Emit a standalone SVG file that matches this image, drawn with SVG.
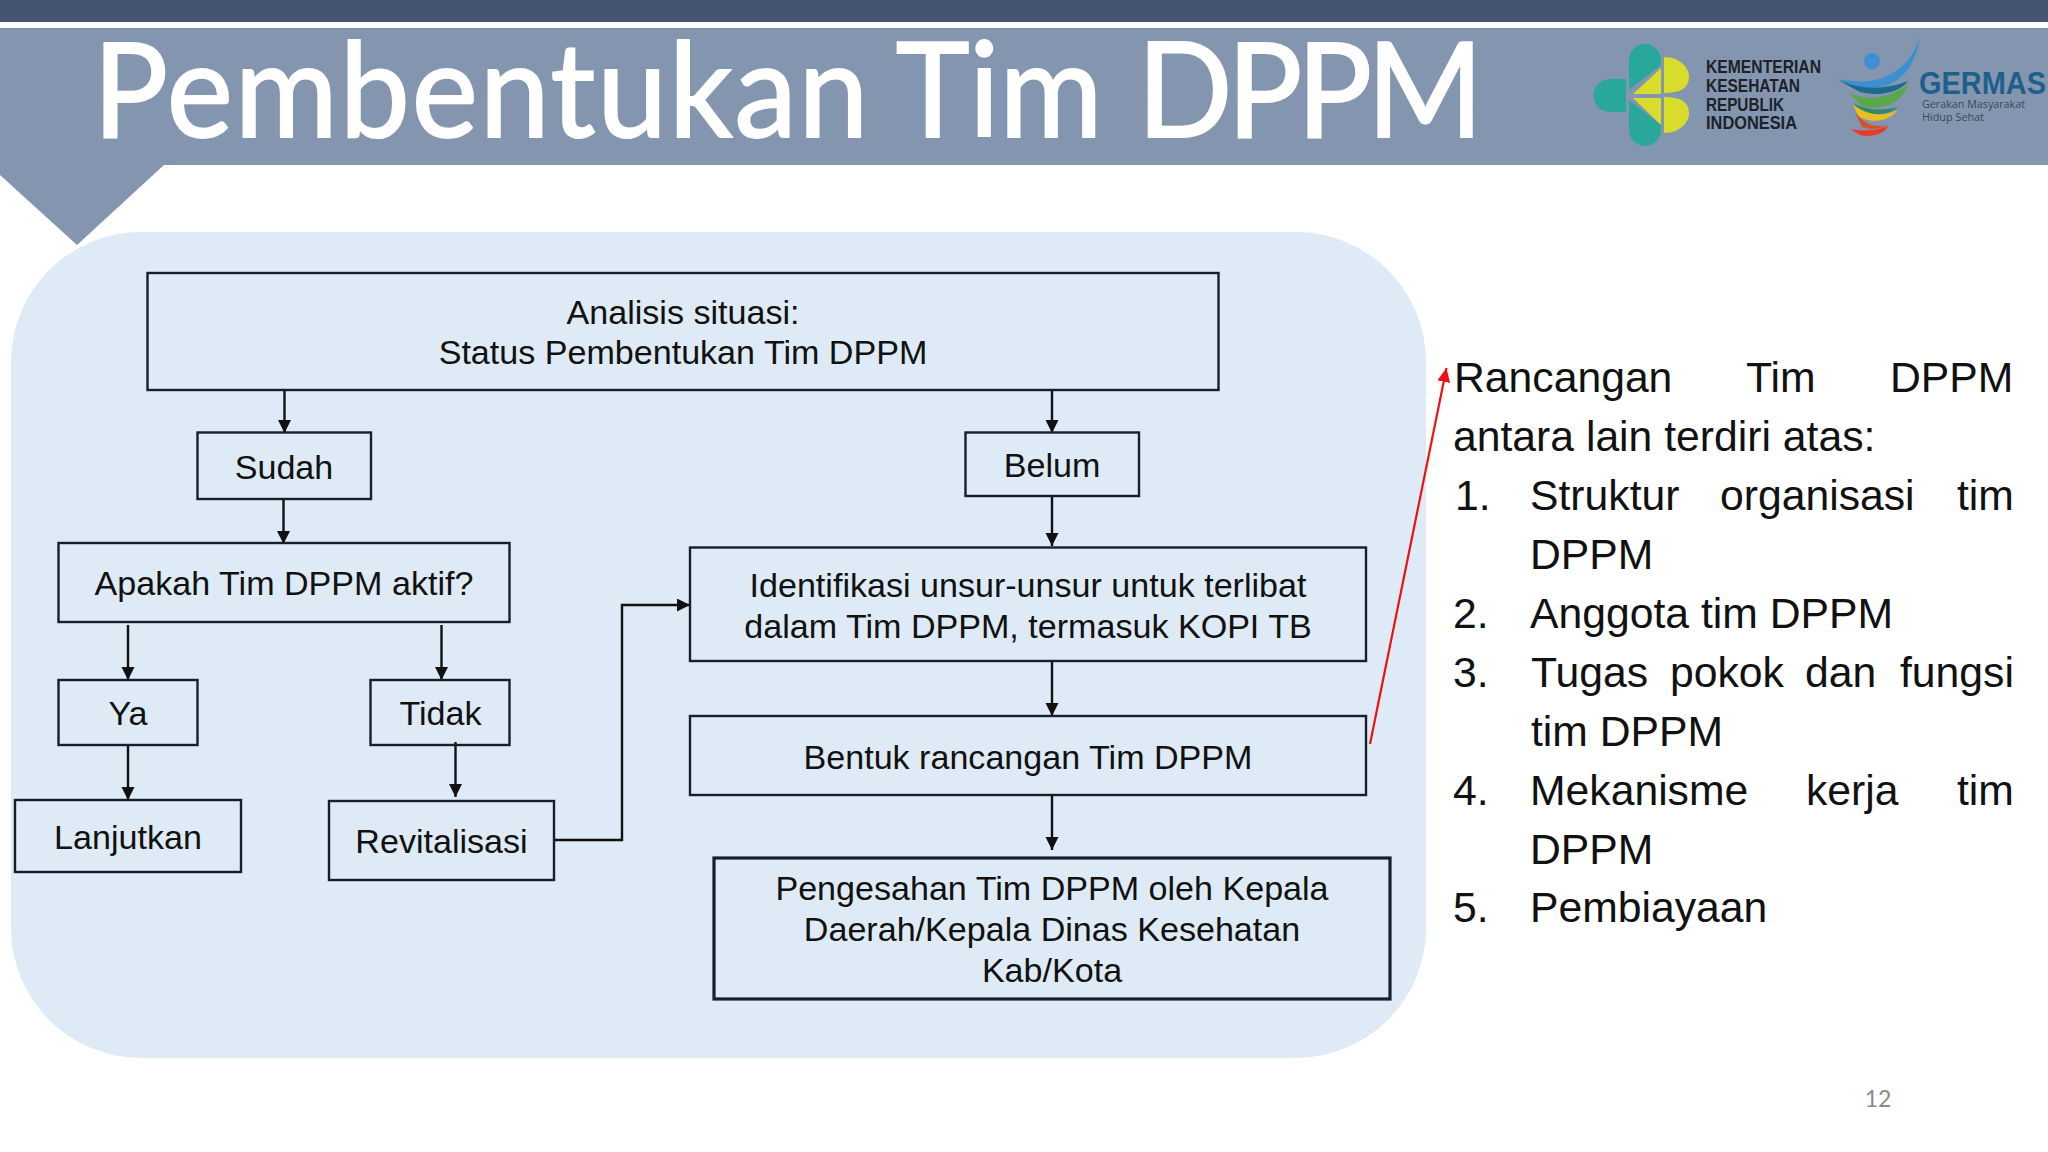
<svg xmlns="http://www.w3.org/2000/svg" width="2048" height="1152" viewBox="0 0 2048 1152">
<style>
.box{fill:none;stroke:#14202a;stroke-width:2.4}
.t{font-family:"Liberation Sans",Arial,sans-serif;font-size:34.1px;fill:#111;text-anchor:middle}
.c{fill:none;stroke:#111;stroke-width:2.4;marker-end:url(#ah)}
.r{font-family:"Liberation Sans",Arial,sans-serif;font-size:42.7px;fill:#111}
.lg{font-family:"Liberation Sans",sans-serif;font-weight:700;font-size:18px;fill:#1c2228}
</style>
<defs>
<marker id="ah" markerUnits="userSpaceOnUse" markerWidth="14" markerHeight="14" refX="13" refY="6.500" orient="auto"><path d="M0 0L13 6.500L0 13Z" fill="#111"/></marker>
<marker id="ahr" markerUnits="userSpaceOnUse" markerWidth="16" markerHeight="14" refX="14" refY="6.500" orient="auto"><path d="M0 0L14 6.500L0 13Z" fill="#f01010"/></marker>
</defs>
<rect width="2048" height="1152" fill="#fff"/>
<g id="header">
<rect width="2048" height="22" fill="#45556f"/>
<path d="M0 28H2048V165H164L77 245L0 175Z" fill="#8496af"/>
<text x="93" y="137" font-family="Lato,sans-serif" font-size="131" fill="#fff" stroke="#fff" stroke-width="2" textLength="1385" lengthAdjust="spacingAndGlyphs"><tspan letter-spacing="2">Pembentukan</tspan> <tspan dx="-3">Tim</tspan> <tspan dx="3" letter-spacing="-5.500">DPPM</tspan></text>
</g>
<g id="logo-kemenkes">
<path d="M1629 90V60A16 16 0 0 1 1661 60V65Z M1629 100L1661 125V130A16 16 0 0 1 1629 130Z M1626 79H1610A16.500 16.500 0 0 0 1610 112H1626Z" fill="#2aa79b"/>
<path d="M1664 57C1680 57 1689 68 1689 76C1689 84 1686 93 1664 93Z M1664 133C1680 133 1689 122 1689 114C1689 106 1686 97 1664 97Z M1633 94L1661 68V94Z M1633 98H1661V125Z" fill="#d8dc2a"/>
<text class="lg" x="1706" y="73" textLength="115" lengthAdjust="spacingAndGlyphs">KEMENTERIAN</text>
<text class="lg" x="1706" y="92" textLength="94" lengthAdjust="spacingAndGlyphs">KESEHATAN</text>
<text class="lg" x="1706" y="111" textLength="78" lengthAdjust="spacingAndGlyphs">REPUBLIK</text>
<text class="lg" x="1706" y="129" textLength="91" lengthAdjust="spacingAndGlyphs">INDONESIA</text>
</g>
<g id="logo-germas">
<circle cx="1872" cy="61" r="8" fill="#3d8fd0"/>
<path d="M1920 37C1912 62 1895 75 1875 80C1862 83 1850 81 1838 79C1850 88 1868 90 1885 86C1905 80 1917 60 1920 37Z" fill="#3d8fd0"/>
<path d="M1838 80C1860 90 1885 90 1908 81C1900 92 1880 97 1860 92Z" fill="#1d6a8c"/>
<path d="M1849 93C1870 102 1890 98 1908 84C1905 102 1880 112 1862 106Z" fill="#5aa84a"/>
<path d="M1853 103C1870 112 1885 110 1898 107C1888 116 1870 116 1858 110Z" fill="#2f8a6a"/>
<path d="M1853 104C1868 118 1890 116 1898 109C1890 122 1870 124 1858 116Z" fill="#e8c020"/>
<path d="M1855 112C1865 125 1875 128 1888 125C1880 130 1870 130 1862 127Z" fill="#d0552a"/>
<path d="M1850 129C1865 132 1880 130 1888 126C1885 134 1870 138 1860 135Z" fill="#e63c28"/>
<text x="1919" y="94" font-family="'Liberation Sans',sans-serif" font-weight="700" font-size="32" fill="#1f5f8b" textLength="127" lengthAdjust="spacingAndGlyphs">GERMAS</text>
<text x="1922" y="107.500" font-family="'Open Sans',sans-serif" font-size="11" fill="#39485a" textLength="103" lengthAdjust="spacingAndGlyphs">Gerakan Masyarakat</text>
<text x="1922" y="121" font-family="'Open Sans',sans-serif" font-size="11" fill="#39485a" textLength="62" lengthAdjust="spacingAndGlyphs">Hidup Sehat</text>
</g>
<rect id="panel" x="11" y="232" width="1415" height="826" rx="130" ry="130" fill="#deeaf6"/>
<g id="connectors">
<path class="c" d="M284.500 390V433"/>
<path class="c" d="M1052 390V433"/>
<path class="c" d="M283.500 499V544"/>
<path class="c" d="M1052 496V546"/>
<path class="c" d="M128 625V680"/>
<path class="c" d="M441.500 625V680"/>
<path class="c" d="M128 745V800"/>
<path class="c" d="M455.500 742V797"/>
<path class="c" d="M554 840H622V605H690"/>
<path class="c" d="M1052 661V716"/>
<path class="c" d="M1052 795V850"/>
<path d="M1370 744L1446.500 368" fill="none" stroke="#f01010" stroke-width="2.200" marker-end="url(#ahr)"/>
</g>
<g id="n-analisis"><rect class="box" x="147.500" y="273" width="1071" height="117"/><text class="t" x="683" y="324">Analisis situasi:</text><text class="t" x="683" y="364">Status Pembentukan Tim DPPM</text></g>
<g id="n-sudah"><rect class="box" x="197.500" y="432.500" width="173.500" height="66.500"/><text class="t" x="284" y="479">Sudah</text></g>
<g id="n-belum"><rect class="box" x="965.500" y="432.500" width="173.500" height="63.500"/><text class="t" x="1052" y="477">Belum</text></g>
<g id="n-apakah"><rect class="box" x="58.500" y="543" width="451" height="79"/><text class="t" x="284" y="595">Apakah Tim DPPM aktif?</text></g>
<g id="n-ya"><rect class="box" x="58.500" y="680" width="139" height="65"/><text class="t" x="128" y="725">Ya</text></g>
<g id="n-tidak"><rect class="box" x="370.500" y="680" width="139" height="65"/><text class="t" x="440.500" y="725">Tidak</text></g>
<g id="n-lanjutkan"><rect class="box" x="15" y="800" width="226" height="72"/><text class="t" x="128" y="849">Lanjutkan</text></g>
<g id="n-revitalisasi"><rect class="box" x="329" y="801" width="225" height="79"/><text class="t" x="441.500" y="853">Revitalisasi</text></g>
<g id="n-identifikasi"><rect class="box" x="690" y="547.500" width="676" height="113.500"/><text class="t" x="1028" y="597">Identifikasi unsur-unsur untuk terlibat</text><text class="t" x="1028" y="637.500">dalam Tim DPPM, termasuk KOPI TB</text></g>
<g id="n-bentuk"><rect class="box" x="690" y="716" width="676" height="79"/><text class="t" x="1028" y="769">Bentuk rancangan Tim DPPM</text></g>
<g id="n-pengesahan"><rect class="box" style="stroke-width:3.200" x="714" y="858" width="676" height="141"/><text class="t" x="1052" y="900">Pengesahan Tim DPPM oleh Kepala</text><text class="t" x="1052" y="941">Daerah/Kepala Dinas Kesehatan</text><text class="t" x="1052" y="982">Kab/Kota</text></g>
<g id="side-text">
<text class="r" y="392"><tspan x="1454">Rancangan</tspan><tspan x="1746">Tim</tspan><tspan x="1890">DPPM</tspan></text>
<text class="r" x="1453" y="451">antara lain terdiri atas:</text>
<text class="r" y="510"><tspan x="1455">1.</tspan><tspan x="1530">Struktur</tspan><tspan x="1720">organisasi</tspan><tspan x="1957">tim</tspan></text>
<text class="r" x="1530" y="569">DPPM</text>
<text class="r" y="628"><tspan x="1453">2.</tspan><tspan x="1530">Anggota tim DPPM</tspan></text>
<text class="r" y="687"><tspan x="1453">3.</tspan><tspan x="1531">Tugas</tspan><tspan x="1670">pokok</tspan><tspan x="1805">dan</tspan><tspan x="1900">fungsi</tspan></text>
<text class="r" x="1531" y="745.500">tim DPPM</text>
<text class="r" y="804.500"><tspan x="1453">4.</tspan><tspan x="1530">Mekanisme</tspan><tspan x="1806">kerja</tspan><tspan x="1957">tim</tspan></text>
<text class="r" x="1530" y="863.500">DPPM</text>
<text class="r" y="922"><tspan x="1453">5.</tspan><tspan x="1530">Pembiayaan</tspan></text>
</g>
<text id="page-number" x="1878" y="1107" font-family="Lato,sans-serif" font-size="23" fill="#8a8a8a" text-anchor="middle">12</text>
</svg>
